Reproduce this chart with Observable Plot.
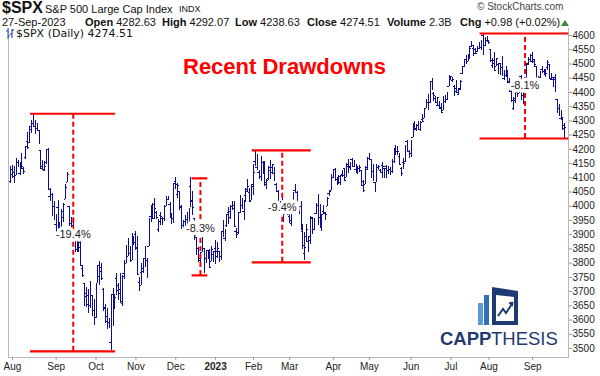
<!DOCTYPE html>
<html><head><meta charset="utf-8">
<script src="https://cdn.jsdelivr.net/npm/d3@7"></script>
<script src="https://cdn.jsdelivr.net/npm/@observablehq/plot@0.6"></script>
<style>
body{margin:0;background:#fff;}
#wrap{position:relative;width:600px;height:376px;overflow:hidden;font-family:"Liberation Sans",Arial,sans-serif;color:#111;}
.abs{position:absolute;white-space:nowrap;line-height:1;}
.abs svg{display:block;}
#chart svg{position:absolute;left:0;top:0;}
</style></head><body>
<div id="wrap"><div id="chart"></div></div>
<script>
// ---- data ----
const months = ["2022-07","2022-08","2022-09","2022-10","2022-11","2022-12","2023-01","2023-02","2023-03","2023-04","2023-05","2023-06","2023-07","2023-08","2023-09"];
const monthDays = [
 [29],
 [1,2,3,4,5,8,9,10,11,12,15,16,17,18,19,22,23,24,25,26,29,30,31],
 [1,2,6,7,8,9,12,13,14,15,16,19,20,21,22,23,26,27,28,29,30],
 [3,4,5,6,7,10,11,12,13,14,17,18,19,20,21,24,25,26,27,28,31],
 [1,2,3,4,7,8,9,10,11,14,15,16,17,18,21,22,23,25,28,29,30],
 [1,2,5,6,7,8,9,12,13,14,15,16,19,20,21,22,23,27,28,29,30],
 [3,4,5,6,9,10,11,12,13,17,18,19,20,23,24,25,26,27,30,31],
 [1,2,3,6,7,8,9,10,13,14,15,16,17,21,22,23,24,27,28],
 [1,2,3,6,7,8,9,10,13,14,15,16,17,20,21,22,23,24,27,28,29,30,31],
 [3,4,5,6,10,11,12,13,14,17,18,19,20,21,24,25,26,27,28],
 [1,2,3,4,5,8,9,10,11,12,15,16,17,18,19,22,23,24,25,26,30,31],
 [1,2,5,6,7,8,9,12,13,14,15,16,20,21,22,23,26,27,28,29,30],
 [3,5,6,7,10,11,12,13,14,17,18,19,20,21,24,25,26,27,28,31],
 [1,2,3,4,7,8,9,10,11,14,15,16,17,18,21,22,23,24,25,28,29,30,31],
 [1,5,6,7,8,11,12,13,14,15,18,19,20,21,22,25,26,27]
];
const opens = [
 4087,
 4112,4104,4107,4154,4115,4155,4134,4170,4227,4225,4270,4290,4280,4273,4266,4195,4133,4126,4154,4199,4034,4041,4000,
 3937,3994,3930,3910,3960,4022,4084,4000,3940,3932,3880,3849,3875,3871,3782,3727,3682,3687,3651,3688,3633,
 3609,3727,3753,3771,3706,3644,3595,3590,3520,3690,3638,3747,3703,3706,3657,3762,3799,3825,3834,3808,3881,
 3901,3853,3733,3767,3780,3818,3810,3859,3963,3977,4007,3977,3919,3966,3956,3956,4000,4024,4005,3964,3958,
 4087,4040,4053,3996,3934,3947,3954,3940,4069,4016,3958,3890,3853,3811,3839,3853,3815,3843,3829,3805,3829,
 3853,3840,3840,3823,3910,3888,3932,3977,3960,3999,4003,3911,3909,3978,4001,3982,4037,4053,4049,4021,
 4070,4158,4136,4119,4105,4153,4144,4078,4096,4126,4119,4114,4078,4052,4001,4018,3973,3993,3977,
 3964,3938,3998,4055,4048,3987,3998,3912,3835,3894,3876,3878,3958,3917,3975,4003,3959,3939,3982,3974,3999,4046,4056,
 4102,4128,4094,4081,4085,4110,4131,4100,4140,4137,4164,4139,4130,4132,4132,4126,4088,4075,4129,
 4167,4164,4123,4082,4084,4136,4124,4143,4133,4139,4126,4128,4122,4157,4204,4191,4176,4133,4155,4156,4226,4191,
 4184,4242,4282,4271,4285,4268,4304,4308,4345,4366,4366,4440,4396,4380,4355,4354,4345,4338,4367,4374,4422,
 4450,4442,4422,4404,4394,4415,4467,4492,4514,4509,4521,4563,4554,4550,4543,4556,4558,4599,4565,4584,
 4579,4550,4494,4513,4492,4498,4502,4487,4450,4458,4478,4434,4416,4344,4380,4415,4397,4455,4389,4426,4433,4500,4517,
 4530,4510,4490,4434,4451,4481,4473,4462,4487,4497,4446,4445,4452,4375,4342,4310,4312,4283
];
const highs = [
 4140,
 4144,4140,4167,4161,4151,4186,4137,4211,4258,4280,4301,4325,4302,4292,4266,4196,4159,4157,4200,4204,4062,4044,4016,
 3970,4019,3942,3987,4010,4076,4119,4000,3961,3959,3880,3900,3877,3907,3791,3727,3716,3707,3736,3688,3672,
 3726,3793,3807,3797,3711,3653,3641,3606,3686,3712,3689,3762,3728,3764,3757,3810,3862,3887,3859,3905,3893,
 3911,3894,3750,3797,3813,3859,3818,3958,4001,4008,4028,3983,3954,3979,3962,4004,4034,4034,4013,3976,4080,
 4101,4080,4053,4001,3951,3966,3977,3990,4101,4053,3958,3890,3854,3838,3889,3853,3845,3846,3848,3858,3839,
 3878,3873,3840,3906,3951,3919,3970,3997,4003,4016,4015,3922,3973,4039,4028,4019,4061,4095,4063,4077,
 4148,4195,4183,4124,4176,4156,4157,4094,4138,4159,4148,4137,4081,4054,4018,4029,3978,4018,3997,
 3971,3990,4048,4078,4051,4000,4017,3935,3906,3937,3894,3964,3959,3956,4009,4040,4007,3972,4003,3979,4031,4057,4110,
 4127,4134,4100,4108,4109,4124,4134,4150,4164,4152,4169,4162,4148,4138,4142,4126,4089,4139,4170,
 4184,4165,4148,4083,4147,4143,4130,4154,4133,4143,4141,4136,4164,4199,4213,4210,4186,4136,4166,4213,4231,4196,
 4232,4290,4299,4288,4299,4298,4322,4339,4375,4392,4439,4448,4400,4387,4382,4367,4362,4384,4390,4398,4458,
 4456,4454,4423,4441,4412,4443,4488,4517,4528,4532,4562,4578,4565,4556,4563,4577,4583,4607,4593,4595,
 4584,4551,4519,4540,4520,4503,4503,4527,4477,4491,4478,4450,4421,4381,4407,4418,4439,4459,4418,4440,4500,4521,4532,
 4541,4515,4491,4457,4473,4491,4481,4479,4511,4497,4466,4452,4462,4376,4357,4338,4313,4292
];
const lows = [
 4079,
 4097,4079,4107,4135,4107,4129,4112,4164,4201,4220,4256,4277,4253,4261,4218,4129,4124,4121,4147,4057,4017,3965,3954,
 3903,3907,3886,3906,3944,4022,4084,3933,3911,3889,3838,3838,3838,3789,3749,3647,3644,3623,3640,3611,3584,
 3604,3727,3723,3739,3631,3588,3568,3571,3492,3578,3638,3687,3667,3658,3647,3742,3799,3824,3803,3808,3863,
 3843,3758,3699,3721,3764,3786,3748,3859,3944,3956,3953,3954,3906,3933,3933,3947,3999,4020,3956,3937,3938,
 4058,4026,3984,3918,3922,3922,3933,3935,3994,3966,3879,3827,3803,3795,3839,3765,3798,3813,3780,3805,3801,
 3794,3815,3802,3809,3890,3877,3925,3937,3954,3984,3926,3885,3899,3973,3990,3949,4012,4049,4015,4021,
 4037,4141,4127,4093,4088,4111,4069,4060,4092,4095,4114,4089,4048,3995,3983,3972,3943,3973,3968,
 3939,3928,3998,4044,3980,3970,3919,3847,3809,3874,3838,3865,3901,3916,3971,3936,3920,3910,3971,3951,3999,4033,4056,
 4098,4086,4072,4077,4072,4102,4086,4100,4114,4124,4140,4135,4114,4113,4117,4071,4049,4075,4127,
 4164,4098,4088,4048,4084,4124,4116,4098,4099,4099,4111,4109,4114,4150,4180,4180,4143,4104,4129,4154,4192,4167,
 4173,4242,4267,4263,4266,4262,4293,4307,4342,4337,4362,4407,4367,4360,4351,4341,4328,4336,4361,4371,4422,
 4442,4436,4385,4398,4389,4408,4464,4489,4497,4507,4514,4557,4527,4532,4541,4552,4547,4528,4563,4574,
 4567,4505,4485,4474,4491,4464,4461,4457,4443,4453,4432,4403,4364,4335,4360,4382,4397,4375,4357,4414,4431,4493,4507,
 4501,4489,4443,4431,4448,4467,4458,4453,4478,4447,4442,4416,4403,4329,4316,4302,4265,4239
];
const closes = [
 4130,
 4119,4091,4155,4152,4145,4140,4122,4210,4207,4280,4297,4305,4274,4284,4228,4138,4129,4141,4199,4058,4031,3986,3955,
 3967,3924,3908,3980,4006,4067,4110,3933,3946,3901,3873,3900,3856,3790,3758,3693,3655,3647,3719,3640,3586,
 3678,3791,3783,3745,3640,3612,3589,3577,3670,3583,3678,3720,3695,3666,3753,3797,3859,3831,3807,3901,3872,
 3856,3760,3720,3771,3807,3828,3749,3956,3993,3957,3992,3959,3947,3965,3950,4004,4027,4026,3964,3958,4080,
 4077,4072,3999,3941,3934,3964,3934,3991,4020,3995,3896,3852,3818,3822,3878,3822,3845,3829,3783,3849,3840,
 3824,3853,3808,3895,3892,3919,3970,3983,3999,3991,3929,3899,3973,4020,4017,4016,4060,4071,4018,4077,
 4119,4180,4136,4111,4164,4118,4082,4090,4137,4136,4148,4090,4079,3997,3991,4012,3970,3982,3970,
 3951,3981,4046,4048,3986,3992,3918,3862,3856,3919,3892,3960,3917,3952,4003,3937,3949,3971,3978,3971,4028,4051,4109,
 4125,4101,4090,4105,4109,4109,4092,4146,4138,4151,4155,4155,4130,4134,4137,4072,4056,4135,4169,
 4168,4120,4091,4061,4136,4138,4119,4138,4131,4124,4136,4110,4159,4198,4192,4193,4146,4115,4151,4205,4206,4180,
 4221,4282,4274,4284,4268,4294,4299,4339,4369,4373,4426,4410,4389,4366,4382,4348,4329,4378,4377,4396,4450,
 4456,4447,4412,4399,4410,4439,4472,4510,4505,4523,4555,4566,4535,4536,4555,4567,4567,4537,4582,4589,
 4577,4513,4502,4478,4518,4499,4468,4469,4464,4490,4438,4404,4370,4370,4400,4388,4436,4376,4406,4433,4498,4515,4508,
 4516,4497,4465,4451,4457,4487,4462,4467,4505,4450,4454,4444,4402,4330,4320,4337,4274,4275
];
const monthLabels = ["Aug","Sep","Oct","Nov","Dec","2023","Feb","Mar","Apr","May","Jun","Jul","Aug","Sep"];
const yTicks = [3500,3550,3600,3650,3700,3750,3800,3850,3900,3950,4000,4050,4100,4150,4200,4250,4300,4350,4400,4450,4500,4550,4600];
// drawdown annotations (x in trading-day index units, y in index points)
const ddPeak   = [4325, 4098, 4196, 4607];
const ddTrough = [3490, 3757, 3803, 4238];
const ddLabel  = ["-19.4%", "-8.3%", "-9.4%", "-8.1%"];
const ddStart  = [10.5, 95.6, 127.3, 247.3];
const ddEnd    = [55.3, 103.9, 158.4, 294];
const ddMid    = [33.0, 100.0, 143.1, 271.0];
const ddLabelY = [3901, 3922, 3997, 4424];

// ---- build ----
const bars = [];
const monthStartIdx = [];
months.forEach((m, k) => {
  monthDays[k].forEach((d, j) => {
    const i = bars.length;
    if (j === 0 && k > 0) monthStartIdx.push(i);
    bars.push({i, date: m + "-" + String(d).padStart(2, "0"), o: opens[i], h: highs[i], l: lows[i], c: closes[i]});
  });
});
const labelByIdx = new Map(monthStartIdx.map((v, k) => [v, monthLabels[k]]));
const dd = ddPeak.map((p, k) => ({peak: p, trough: ddTrough[k], label: ddLabel[k], x1: ddStart[k], x2: ddEnd[k], mid: ddMid[k], ly: ddLabelY[k]}));

const navy = "#0c0c96";
const red = "#ff0000";
const chart = Plot.plot({
  width: 600, height: 376,
  marginTop: 28, marginBottom: 19, marginLeft: 8, marginRight: 32,
  x: {type: "linear", domain: [-1.1, 293.9]},
  y: {type: "linear", domain: [3468.4, 4624.6]},
  style: {fontFamily: "'Liberation Sans', Arial, sans-serif", fontSize: "10px", color: "#222", background: "transparent", overflow: "visible"},
  marks: [
    Plot.frame({anchor: "left", stroke: "#b8b8b8"}),
    Plot.frame({anchor: "bottom", stroke: "#b8b8b8"}),
    Plot.frame({anchor: "right", stroke: "#b8b8b8"}),
    Plot.axisY(yTicks, {anchor: "right", tickSize: 3, tickPadding: 1, stroke: "#999", fill: "#222", fontSize: 10, label: null, tickFormat: d => String(d)}),
    Plot.axisX(monthStartIdx, {anchor: "bottom", tickSize: 3, tickPadding: 2, stroke: "#999", fill: "#222", fontSize: 10, label: null, tickFormat: d => labelByIdx.get(d)}),
    Plot.ruleX(bars, {x: "i", y1: "l", y2: "h", stroke: navy, strokeWidth: 1, shapeRendering: "crispEdges"}),
    Plot.ruleY(bars, {y: "o", x1: d => d.i - 0.8, x2: "i", stroke: navy, strokeWidth: 1, shapeRendering: "crispEdges"}),
    Plot.ruleY(bars, {y: "c", x1: "i", x2: d => d.i + 0.8, stroke: navy, strokeWidth: 1, shapeRendering: "crispEdges"}),
    Plot.ruleX(dd, {x: "mid", y1: "trough", y2: "peak", stroke: red, strokeWidth: 2, strokeDasharray: "5,3"}),
    Plot.ruleY(dd, {y: "peak", x1: "x1", x2: "x2", stroke: red, strokeWidth: 2.2}),
    Plot.ruleY(dd, {y: "trough", x1: "x1", x2: "x2", stroke: red, strokeWidth: 2.2}),
    Plot.text(dd, {x: "mid", y: "ly", text: "label", fill: "#222", stroke: "white", strokeWidth: 7, fontSize: 11})
  ]
});
d3.select(chart).selectAll("text").filter(function(){ return this.textContent === "2023"; }).attr("font-weight", "bold");
document.getElementById("chart").appendChild(chart);

// ---- header / overlays ----
const wrap = document.getElementById("wrap");
function add(html, style) { const d = document.createElement("div"); d.className = "abs"; d.innerHTML = html; d.setAttribute("style", style); wrap.appendChild(d); return d; }
add("$SPX", "left:2px;top:0px;font-weight:bold;font-size:16px;");
add("S&amp;P 500 Large Cap Index", "left:45px;top:3.7px;font-size:11px;");
add("INDX", "left:179px;top:5.2px;font-size:9px;");
add("© StockCharts.com", "left:477px;top:2px;font-size:10px;color:#444;");
add("27-Sep-2023", "left:2px;top:17.4px;font-size:11px;");
const hdr = [["Open","4282.63",85],["High","4292.07",162],["Low","4238.63",235],["Close","4274.51",307],["Volume","2.3B",387],["Chg","+0.98 (+0.02%)",460]];
hdr.forEach(([k, v, x]) => add("<b>" + k + "</b> " + v, "left:" + x + "px;top:17.4px;font-size:11px;"));
add('<svg width="8" height="6"><path d="M4 0 L8 6 L0 6 Z" fill="#2e8b3a"/></svg>', "left:561px;top:20px;");
add('<svg width="8" height="11"><path d="M2 0 V11 M0 3 H2 M2 8 H4" stroke="#2a4bd0" stroke-width="1" fill="none"/><path d="M6 1 V10 M4 6 H6 M6 2 H8" stroke="#1b2a9a" stroke-width="1" fill="none"/></svg>', "left:6px;top:28px;");
add("$SPX (Daily) 4274.51", "left:16px;top:28px;font-size:11px;font-family:'DejaVu Sans',Verdana,sans-serif;color:#111;");
add("Recent Drawdowns", "left:183px;top:56.4px;font-size:22px;font-weight:bold;color:#ff0000;");
// CAPPTHESIS logo
add('<svg width="80" height="42" viewBox="0 0 80 42">' +
  '<rect x="38" y="18" width="5" height="22" fill="#5b9bd5"/>' +
  '<rect x="44" y="10" width="5" height="30" fill="#2f6fb5"/>' +
  '<path d="M52 2 L78 6 L78 40 L52 40 Z" fill="#1f3a72"/>' +
  '<path d="M56 10 L74 12 L74 36 L56 36 Z" fill="#fff"/>' +
  '<path d="M58 31 L63 24 L66 28 L72 19" stroke="#1f3a72" stroke-width="2" fill="none"/>' +
  '<path d="M69 18 L73 17 L72.5 21 Z" fill="#1f3a72" stroke="#1f3a72" stroke-width="1"/>' +
  '</svg>', "left:440px;top:285px;");
add("<b>CAPP</b>", "left:440px;top:330px;font-size:18.5px;color:#1f3a72;");
add("THESIS", "left:491px;top:330px;font-size:18.5px;color:#1f3a72;");
</script>
</body></html>
